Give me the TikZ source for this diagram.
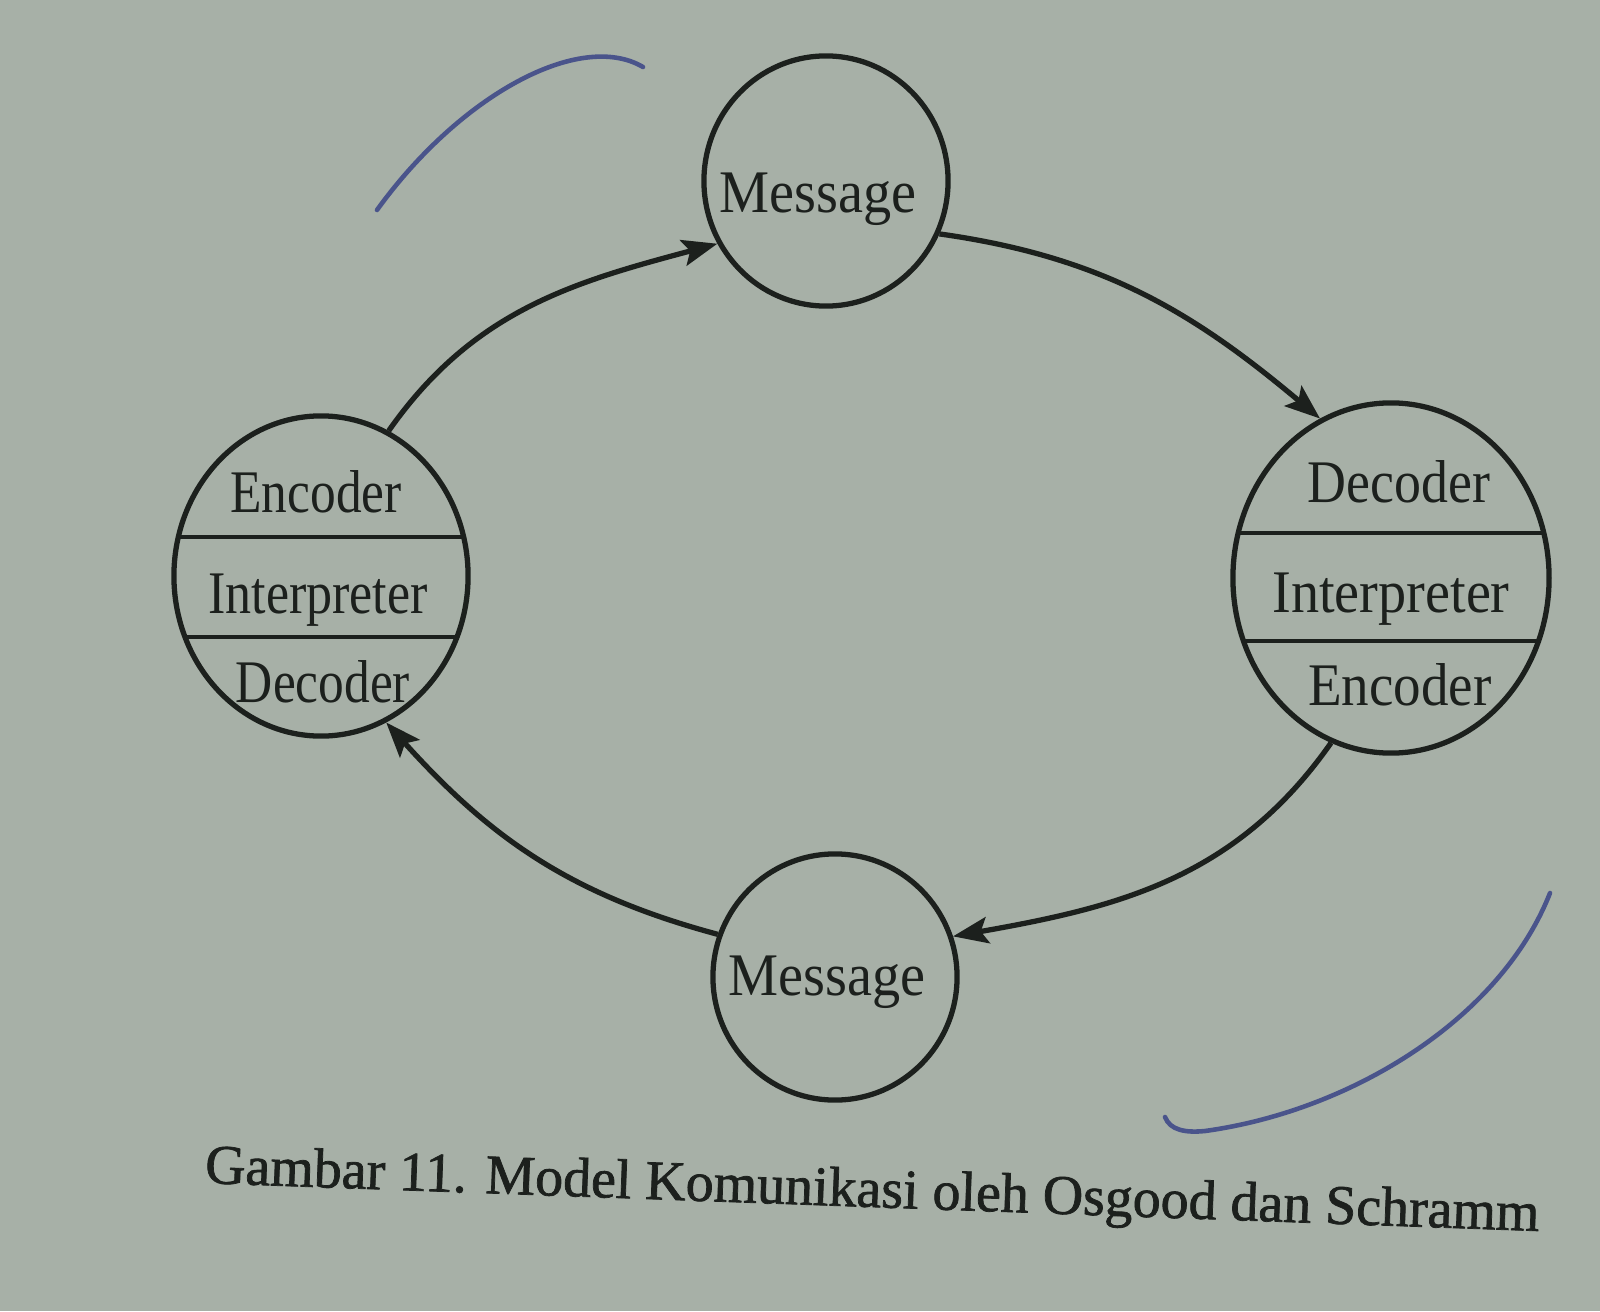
\documentclass[tikz,border=0pt]{standalone}
\usepackage{fontspec}
\setmainfont{Liberation Serif}
\newfontfamily\capfont[FakeBold=1.3]{Liberation Serif}
\usetikzlibrary{arrows.meta,shapes.geometric}
\definecolor{paper}{RGB}{167,176,167}
\definecolor{ink}{RGB}{28,32,29}
\definecolor{pen}{RGB}{58,68,135}
\begin{document}
\begin{tikzpicture}[x=0.01cm,y=0.01cm,
  circ/.style={ellipse, draw=ink, line width=1.5pt, inner sep=0pt},
  chord/.style={draw=ink, line width=1.3pt},
  lbl/.style={anchor=base, inner sep=0pt, text=ink, font=\fontsize{17.2}{20}\selectfont},
  flow/.style={draw=ink, line width=1.5pt, -{Stealth[length=10pt,width=7.5pt,inset=2pt]}},
  penstroke/.style={draw=pen, line width=1.3pt, line cap=round, opacity=0.85}]
\fill[paper] (0,0) rectangle (1600,1311);
\useasboundingbox (0,0) rectangle (1600,1311);

% circles
\node[circ, minimum width=2.44cm, minimum height=2.50cm] (tm) at (826,1130) {};
\node[circ, minimum width=2.44cm, minimum height=2.46cm] (bm) at (835,334) {};
\node[circ, minimum width=2.94cm, minimum height=3.20cm] (lc) at (321,735) {};
\node[circ, minimum width=3.16cm, minimum height=3.50cm] (rc) at (1391,733) {};

% dividers
\begin{scope}
  \clip (321,735) ellipse [x radius=147, y radius=160];
  \draw[chord] (100,774) -- (600,774);
  \draw[chord] (100,674) -- (600,674);
\end{scope}
\begin{scope}
  \clip (1391,733) ellipse [x radius=158, y radius=175];
  \draw[chord] (1150,778) -- (1650,778);
  \draw[chord] (1150,670) -- (1650,670);
\end{scope}

% labels
\node[lbl] (tmt) at (818,1098) {\scalebox{0.93}[1]{Message}};
\node[lbl] (bmt) at (827,316) {\scalebox{0.93}[1]{Message}};
\node[lbl] (l1) at (316,799) {\scalebox{0.85}[1]{Encoder}};
\node[lbl] (l2) at (318,698) {\scalebox{0.86}[1]{Interpreter}};
\node[lbl] (l3) at (323,609) {\scalebox{0.85}[1]{Decoder}};
\node[lbl] (r1) at (1399,809) {\scalebox{0.89}[1]{Decoder}};
\node[lbl] (r2) at (1391,699) {\scalebox{0.93}[1]{Interpreter}};
\node[lbl] (r3) at (1400,606) {\scalebox{0.91}[1]{Encoder}};

% connectors
\draw[flow] (lc.65) to[out=55,in=195] (tm.210);
\draw[flow] (tm.335) to[out=-8,in=140] (rc.114);
\draw[flow] (rc.250) to[out=235,in=10] (bm.19);
\draw[flow] (bm.160) to[out=165,in=312] (lc.294);

% caption
\node[anchor=base west, inner sep=0pt, rotate=-2.06, text=ink,
      font=\capfont\fontsize{15.9}{19}\selectfont] (cap) at (204,128)
  {Gambar 11. Model Komunikasi oleh Osgood dan Schramm};

% pen marks
\draw[penstroke] (377,1101) .. controls (460,1216) and (580,1281) .. (643,1244);
\draw[penstroke] (1165,194) .. controls (1170,181) and (1185,178) .. (1205,180)
                 .. controls (1350,200) and (1500,291) .. (1550,418);
\end{tikzpicture}
\end{document}
